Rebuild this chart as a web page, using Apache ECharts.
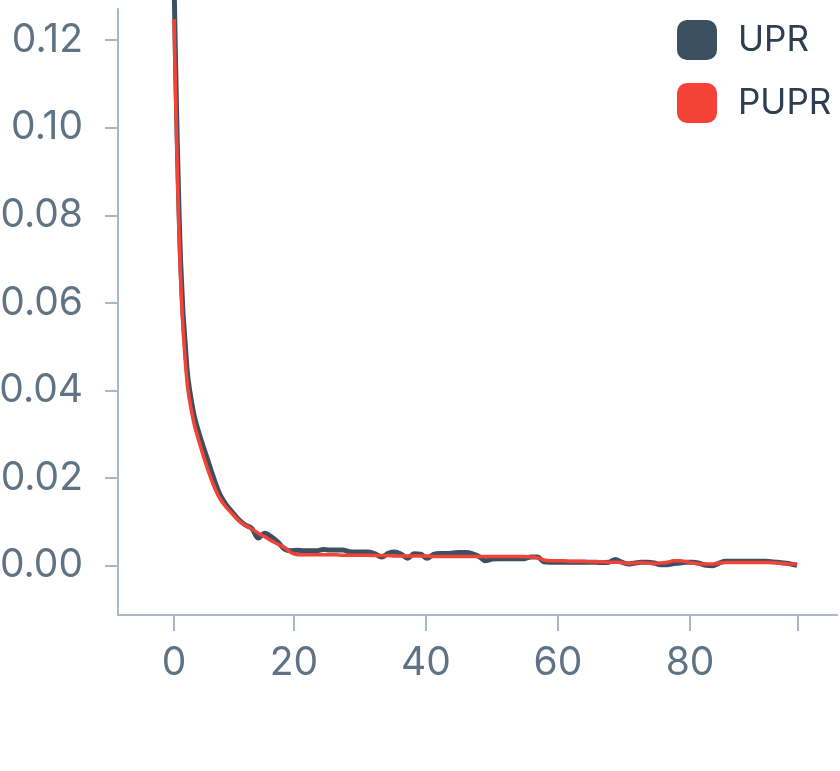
<!DOCTYPE html>
<html>
<head>
<meta charset="utf-8">
<script src="https://cdn.jsdelivr.net/npm/echarts@6/dist/echarts.min.js"></script>
<style>
html,body{margin:0;padding:0;background:#fff;}
#chart{width:840px;height:771px;}
</style>
</head>
<body>
<div id="chart"></div>
<script>
// series values, one per step index
var upr = [
  0.134, 0.070, 0.045, 0.035, 0.0295, 0.025, 0.0205, 0.0165, 0.0140, 0.0122,
  0.0105, 0.0093, 0.0085, 0.0063, 0.0074, 0.0066, 0.0054, 0.0038, 0.0034, 0.0035,
  0.0034, 0.0034, 0.0034, 0.0037, 0.0036, 0.0036, 0.0036, 0.0032, 0.0031, 0.0031,
  0.0031, 0.0027, 0.0020, 0.0028, 0.0031, 0.0026, 0.0017, 0.0027, 0.0026, 0.0017,
  0.0026, 0.0028, 0.0028, 0.0029, 0.0030, 0.0030, 0.0027, 0.0021, 0.0011, 0.0015,
  0.0016, 0.0016, 0.0016, 0.0016, 0.0016, 0.0020, 0.0020, 0.0009, 0.0008, 0.0008,
  0.0008, 0.0008, 0.0008, 0.0008, 0.0008, 0.0008, 0.0007, 0.0008, 0.0014, 0.0008,
  0.0004, 0.0006, 0.0008, 0.0008, 0.0006, 0.0002, 0.0002, 0.0005, 0.0006, 0.0008,
  0.0008, 0.0005, 0.0001, 0.0000, 0.0006, 0.0010, 0.0010, 0.0010, 0.0010, 0.0010,
  0.0010, 0.0010, 0.0009, 0.0008, 0.0006, 0.0004, 0.0001
];
var pupr = [
  0.1248, 0.066, 0.042, 0.033, 0.0276, 0.0228, 0.0187, 0.0155, 0.0134, 0.0118,
  0.0103, 0.0092, 0.0084, 0.0074, 0.0066, 0.0057, 0.0049, 0.0042, 0.0030, 0.0025,
  0.0025, 0.0025, 0.0025, 0.0025, 0.0025, 0.0025, 0.0024, 0.0024, 0.0024, 0.0024,
  0.0024, 0.0023, 0.0023, 0.0023, 0.0022, 0.0022, 0.0022, 0.0022, 0.0022, 0.0022,
  0.0021, 0.0021, 0.0021, 0.0021, 0.0021, 0.0021, 0.0021, 0.0021, 0.0021, 0.0021,
  0.0021, 0.0021, 0.0021, 0.0021, 0.0021, 0.0020, 0.0018, 0.0013, 0.0011, 0.0011,
  0.0011, 0.0010, 0.0010, 0.0010, 0.0009, 0.0009, 0.0009, 0.0008, 0.0008, 0.0007,
  0.0005, 0.0006, 0.0007, 0.0006, 0.0005, 0.0006, 0.0008, 0.0011, 0.0011, 0.0009,
  0.0006, 0.0004, 0.0004, 0.0004, 0.0006, 0.0007, 0.0007, 0.0007, 0.0007, 0.0007,
  0.0007, 0.0007, 0.0007, 0.0006, 0.0005, 0.0004, 0.0004
];
var seriesNames = ['UPR', 'PUPR'];
// x tick positions (step index) and their labels
var xTickPos = [0, 18.49, 38.83, 59.17, 79.51, 96.04];
var xTickLabels = ['0', '20', '40', '60', '80', ''];
var yTicks = [0, 0.02, 0.04, 0.06, 0.08, 0.10, 0.12];

function pairs(arr) {
  return arr.map(function (v, i) { return [i, v]; });
}

var labelColor = '#5f7385';
var axisColor = '#a9b8c4';
var fontFamily = 'Inter, "Noto Sans", sans-serif';

var chart = echarts.init(document.getElementById('chart'), null, { renderer: 'canvas' });
chart.setOption({
  animation: false,
  backgroundColor: '#ffffff',
  grid: { left: 118, right: 3, top: 9, bottom: 156, containLabel: false, outerBoundsMode: 'none' },
  legend: {
    orient: 'vertical',
    left: 677,
    top: 20,
    padding: 0,
    itemWidth: 40,
    itemHeight: 40,
    itemGap: 23,
    icon: 'roundRect',
    textStyle: { fontSize: 35, color: '#2c3e50', fontFamily: fontFamily, padding: [0, 0, 0, 16] },
    data: seriesNames
  },
  xAxis: {
    type: 'value',
    min: -8.63,
    max: 102.16,
    splitLine: { show: false },
    axisLine: { show: true, onZero: false, lineStyle: { color: axisColor, width: 2 } },
    axisTick: { show: true, length: 16, customValues: xTickPos, lineStyle: { color: axisColor, width: 2 } },
    axisLabel: {
      customValues: xTickPos,
      margin: 29,
      fontSize: 39,
      color: labelColor,
      fontFamily: fontFamily,
      formatter: function (v) {
        var best = 0, d = Infinity;
        for (var k = 0; k < xTickPos.length; k++) {
          var dd = Math.abs(xTickPos[k] - v);
          if (dd < d) { d = dd; best = k; }
        }
        return xTickLabels[best];
      }
    }
  },
  yAxis: {
    type: 'value',
    min: -0.01126,
    max: 0.1271,
    splitLine: { show: false },
    axisLine: { show: true, onZero: false, lineStyle: { color: axisColor, width: 2 } },
    axisTick: { show: true, length: 13, customValues: yTicks, lineStyle: { color: axisColor, width: 2 } },
    axisLabel: {
      customValues: yTicks,
      margin: 35,
      fontSize: 39,
      color: labelColor,
      fontFamily: fontFamily,
      formatter: function (v) { return v.toFixed(2); }
    }
  },
  series: [
    {
      name: seriesNames[0],
      type: 'line',
      data: pairs(upr),
      smooth: 0.35,
      symbol: 'none',
      clip: false,
      color: '#3d5061',
      lineStyle: { width: 5, color: '#3d5061' },
      z: 2
    },
    {
      name: seriesNames[1],
      type: 'line',
      data: pairs(pupr),
      smooth: 0.35,
      symbol: 'none',
      clip: false,
      color: '#f44336',
      lineStyle: { width: 3.5, color: '#f44336' },
      z: 3
    }
  ]
});
</script>
</body>
</html>
